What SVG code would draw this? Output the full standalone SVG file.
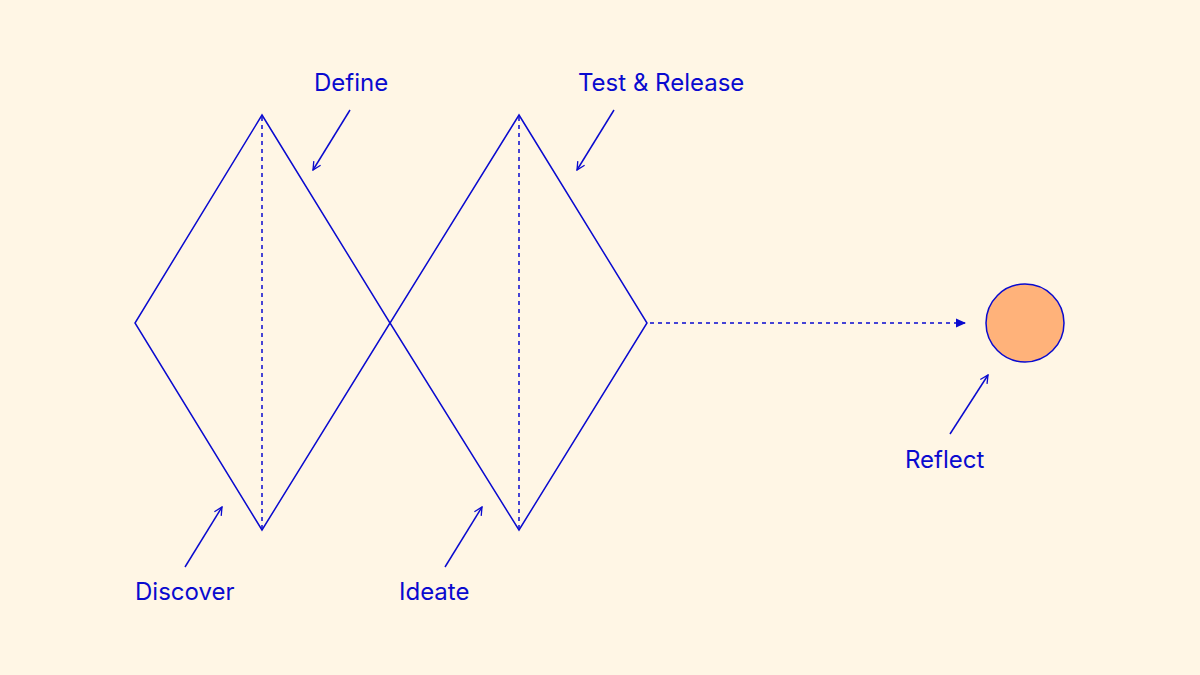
<svg xmlns="http://www.w3.org/2000/svg" width="1200" height="675" viewBox="0 0 1200 675">
<defs>
<style>
.ln{fill:none;stroke:#0a0acf;stroke-width:1.5}
.dash{fill:none;stroke:#0a0acf;stroke-width:1.5;stroke-dasharray:4 4}
.lbl{font-family:Inter,"Liberation Sans",sans-serif;font-size:24px;fill:#0a0acf}
</style>
<marker id="open" viewBox="0 0 10 10" refX="9" refY="5" markerWidth="10" markerHeight="10" markerUnits="userSpaceOnUse" orient="auto">
<path d="M1,1 L9,5 L1,9" fill="none" stroke="#0a0acf" stroke-width="1.3"/>
</marker>
<marker id="fill" viewBox="0 0 10 10" refX="9" refY="5" markerWidth="10" markerHeight="10" markerUnits="userSpaceOnUse" orient="auto">
<path d="M0,0.5 L10,5 L0,9.5 Z" fill="#0a0acf"/>
</marker>
</defs>
<rect width="1200" height="675" fill="#fff6e5"/>
<g id="diamond-1">
<path class="ln" d="M262,115 L390,323 L262,530 L135,323 Z"/>
<line class="dash" x1="262" y1="117" x2="262" y2="528"/>
</g>
<g id="diamond-2">
<path class="ln" d="M519,115 L647,323 L519,530 L390,323 Z"/>
<line class="dash" x1="519" y1="117" x2="519" y2="528"/>
</g>
<g id="reflect-node">
<circle cx="1025" cy="323" r="39" fill="#ffb27a" stroke="#0a0acf" stroke-width="1.5"/>
</g>
<g id="connectors">
<line class="dash" x1="650" y1="323" x2="965" y2="323" marker-end="url(#fill)"/>
<line class="ln" x1="350" y1="110" x2="313" y2="170" marker-end="url(#open)"/>
<line class="ln" x1="614" y1="110" x2="577" y2="170" marker-end="url(#open)"/>
<line class="ln" x1="185" y1="567" x2="222" y2="507" marker-end="url(#open)"/>
<line class="ln" x1="445" y1="567" x2="482" y2="507" marker-end="url(#open)"/>
<line class="ln" x1="950" y1="434" x2="988" y2="375" marker-end="url(#open)"/>
</g>
<g id="labels">
<text class="lbl" x="314" y="91">Define</text>
<text class="lbl" x="578" y="91">Test &amp; Release</text>
<text class="lbl" x="135" y="600">Discover</text>
<text class="lbl" x="399" y="600">Ideate</text>
<text class="lbl" x="905" y="468">Reflect</text>
</g>
</svg>
